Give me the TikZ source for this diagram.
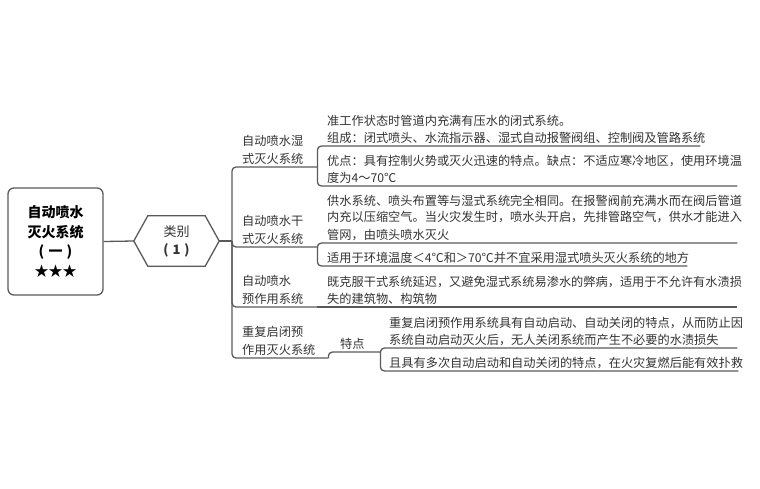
\documentclass[tikz,border=0pt]{standalone}
\usepackage{fontspec}
\setmainfont{Noto Sans CJK SC}
\usetikzlibrary{calc}
\definecolor{linec}{HTML}{5A5A5A}
\definecolor{txt}{HTML}{333333}
\begin{document}
\begin{tikzpicture}[x=1pt,y=-1pt,
  conn/.style={draw=linec, line width=1.3pt, rounded corners=4pt},
  leaf/.style={anchor=south west, inner xsep=0pt, inner ysep=2.5pt, align=left, text=txt, font=\fontsize{12.2}{17}\selectfont},
  branch/.style={leaf, font=\fontsize{12.2}{18}\selectfont},
]
\useasboundingbox (0,0) rectangle (760,488);
% root
\node[draw=linec, line width=1.3pt, rounded corners=6pt, minimum width=95pt, minimum height=107pt,
      align=center, text=black, font=\fontsize{14}{19.5}\selectfont\bfseries] (root) at (55.5,241.5)
      {自动喷水\\灭火系统\\(\hspace{0.3em}一\hspace{0.3em})\\★★★};
% category hexagon
\node[minimum width=85pt, minimum height=50pt, inner sep=0pt, align=center, text=txt,
      font=\fontsize{13}{18}\selectfont] (cat) at (176.5,241) {类别\\\textbf{(\hspace{0.3em}1\hspace{0.3em})}};
\draw[draw=linec, line width=1.3pt] (cat.west) -- ([xshift=14pt]cat.north west) -- ([xshift=-14pt]cat.north east)
   -- (cat.east) -- ([xshift=-14pt]cat.south east) -- ([xshift=14pt]cat.south west) -- cycle;
\draw[conn] (root.east) -- (cat.west);
\coordinate (J) at (232,241);
\draw[conn] (cat.east) -- (J);
% branches
\node[branch, text width=75pt] (b1) at (242,167) {自动喷水湿\\式灭火系统};
\node[branch, text width=75pt] (b2) at (242,247) {自动喷水干\\式灭火系统};
\node[branch, text width=75pt] (b3) at (242,307) {自动喷水\\预作用系统};
\node[branch, text width=86pt] (b4) at (242,358) {重复启闭预\\作用灭火系统};
\foreach \b in {b1,b2,b3,b4} \draw[conn] (J) |- (\b.south east);
% leaves
\node[leaf, text width=373pt] (l1) at (327,146) {准工作状态时管道内充满有压水的闭式系统。\\组成：闭式喷头、水流指示器、湿式自动报警阀组、控制阀及管路系统};
\node[leaf, text width=410pt] (l2) at (327,186) {优点：具有控制火势或灭火迅速的特点。缺点：不适应寒冷地区，使用环境温\\度为4～70℃};
\node[leaf, text width=410pt] (l3) at (327,243) {供水系统、喷头布置等与湿式系统完全相同。在报警阀前充满水而在阀后管道\\内充以压缩空气。当火灾发生时，喷水头开启，先排管路空气，供水才能进入\\管网，由喷头喷水灭火};
\node[leaf, text width=360pt] (l4) at (327,266) {适用于环境温度＜4℃和＞70℃并不宜采用湿式喷头灭火系统的地方};
\node[leaf, text width=410pt] (l5) at (327,307) {既克服干式系统延迟，又避免湿式系统易渗水的弊病，适用于不允许有水渍损\\失的建筑物、构筑物};
\node[branch, text width=40pt] (td) at (340,352) {特点};
\node[leaf, text width=348pt] (l6) at (389,348) {重复启闭预作用系统具有自动启动、自动关闭的特点，从而防止因\\系统自动启动灭火后，无人关闭系统而产生不必要的水渍损失};
\node[leaf, text width=349pt] (l7) at (389,371) {且具有多次自动启动和自动关闭的特点，在火灾复燃后能有效扑救};
% connectors
\draw[conn] (b1.south east) |- (l1.south east);
\draw[conn] (b1.south east) |- (l2.south east);
\draw[conn] (b2.south east) |- (l3.south east);
\draw[conn] (b2.south east) |- (l4.south east);
\draw[conn] (b3.south east) -- (l5.south east);
\draw[conn] (b4.south east) |- (td.south east);
\draw[conn] (td.south east) |- (l6.south east);
\draw[conn] (td.south east) |- (l7.south east);
\end{tikzpicture}
\end{document}
